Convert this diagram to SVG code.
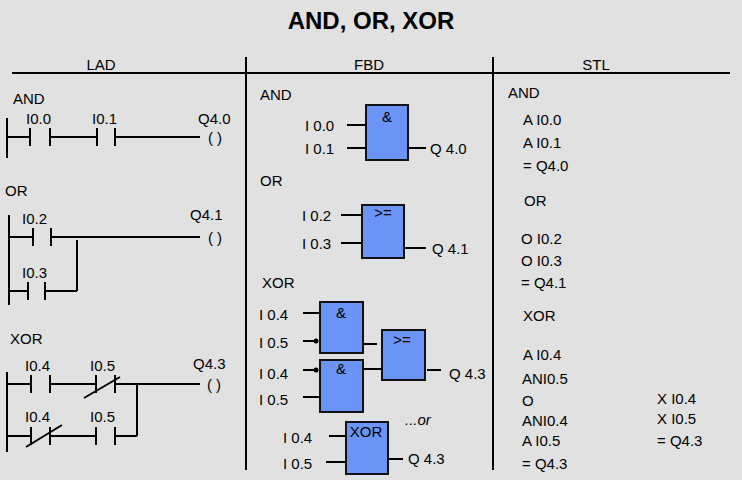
<svg xmlns="http://www.w3.org/2000/svg" width="742" height="480" viewBox="0 0 742 480">
<style>
text{font-family:"Liberation Sans",Arial,sans-serif;font-size:15px;fill:#000;dominant-baseline:central}
.l{stroke:#000;stroke-width:2;fill:none}
.b{fill:#6b94f7;stroke:#111;stroke-width:2}
.c{text-anchor:middle}
</style>
<rect width="742" height="480" fill="#e1e1e1"/>
<text x="371" y="20" class="c" style="font-size:24px;font-weight:bold">AND, OR, XOR</text>
<g id="frame" class="l">
<path d="M12 73H730M246 57V470M493 57V470"/>
</g>
<text x="101" y="64" class="c">LAD</text><text x="369" y="64" class="c">FBD</text><text x="596" y="64" class="c">STL</text>
<g id="lad-and">
<text x="13" y="98">AND</text>
<path class="l" d="M7 118V158M8 137H30M30 128V146M50 128V146M50 137H97M97 128V146M115 128V146M115 137H200"/>
<text x="26" y="118">I0.0</text><text x="92" y="118">I0.1</text><text x="198" y="118">Q4.0</text>
<text x="215" y="137" class="c">(   )</text>
</g>
<g id="lad-or">
<text x="5" y="190">OR</text>
<path class="l" d="M9 215V305M9 237H33M33 228V246M51 228V246M51 237H200M9 291H28M28 282V300M45 282V300M45 291H77M77 240V291"/>
<text x="22" y="218">I0.2</text><text x="22" y="272">I0.3</text><text x="190" y="214">Q4.1</text>
<text x="215" y="237" class="c">(   )</text>
</g>
<g id="lad-xor">
<text x="10" y="338">XOR</text>
<path class="l" d="M7 372V452M8 384H31M31 375V393M50 375V393M50 384H96M96 375V393M115 375V393M84 398L120 377M115 384H200M137 384V436M8 436H31M31 427V445M50 427V445M26 447L62 425M50 436H96M96 427V445M115 427V445M115 436H137"/>
<text x="25" y="365">I0.4</text><text x="90" y="365">I0.5</text><text x="193" y="363">Q4.3</text>
<text x="25" y="416">I0.4</text><text x="90" y="416">I0.5</text>
<text x="214" y="384" class="c">(   )</text>
</g>
<g id="fbd-and">
<text x="260" y="94">AND</text>
<rect class="b" x="366" y="105" width="42" height="55"/>
<text x="387" y="116" class="c">&amp;</text>
<path class="l" d="M347 125H366M347 148H366M408 148H426"/>
<text x="305" y="125">I 0.0</text><text x="305" y="148">I 0.1</text><text x="430" y="148">Q 4.0</text>
</g>
<g id="fbd-or">
<text x="260" y="180">OR</text>
<rect class="b" x="362" y="205" width="42" height="53"/>
<text x="383" y="212" class="c">&gt;=</text>
<path class="l" d="M341 215H362M341 243H362M404 248H426"/>
<text x="302" y="215">I 0.2</text><text x="302" y="243">I 0.3</text><text x="432" y="248">Q 4.1</text>
</g>
<g id="fbd-xor">
<text x="262" y="282">XOR</text>
<rect class="b" x="320" y="302" width="43" height="51"/>
<rect class="b" x="320" y="360" width="43" height="52"/>
<rect class="b" x="382" y="330" width="43" height="50"/>
<text x="341" y="312" class="c">&amp;</text><text x="341" y="368" class="c">&amp;</text><text x="402" y="339" class="c">&gt;=</text>
<path class="l" d="M303 313H319M303 341H318M303 370H318M303 397H319M363 344H377M363 369H382M427 370H441"/>
<circle cx="316" cy="341" r="2.5"/><circle cx="316" cy="370" r="2.5"/>
<text x="259" y="314">I 0.4</text><text x="259" y="342">I 0.5</text><text x="259" y="373">I 0.4</text><text x="259" y="399">I 0.5</text>
<text x="449" y="373">Q 4.3</text>
<text x="405" y="419" style="font-style:italic">...or</text>
<rect class="b" x="346" y="422" width="42" height="52"/>
<text x="366" y="431" class="c">XOR</text>
<path class="l" d="M329 436H345M326 462H345M389 459H403"/>
<text x="283" y="437">I 0.4</text><text x="283" y="463">I 0.5</text><text x="408" y="458">Q 4.3</text>
</g>
<g id="stl">
<text x="508" y="92">AND</text>
<text x="523" y="119">A   I0.0</text><text x="523" y="142">A   I0.1</text><text x="523" y="165">=    Q4.0</text>
<text x="524" y="200">OR</text>
<text x="521" y="238">O   I0.2</text><text x="521" y="260">O   I0.3</text><text x="521" y="282">=    Q4.1</text>
<text x="523" y="315">XOR</text>
<text x="523" y="354">A   I0.4</text><text x="522" y="378">ANI0.5</text><text x="522" y="400">O</text>
<text x="522" y="420">ANI0.4</text><text x="522" y="440">A   I0.5</text><text x="522" y="463">=    Q4.3</text>
<text x="657" y="398">X   I0.4</text><text x="657" y="418">X   I0.5</text><text x="657" y="440">=   Q4.3</text>
</g>
</svg>
